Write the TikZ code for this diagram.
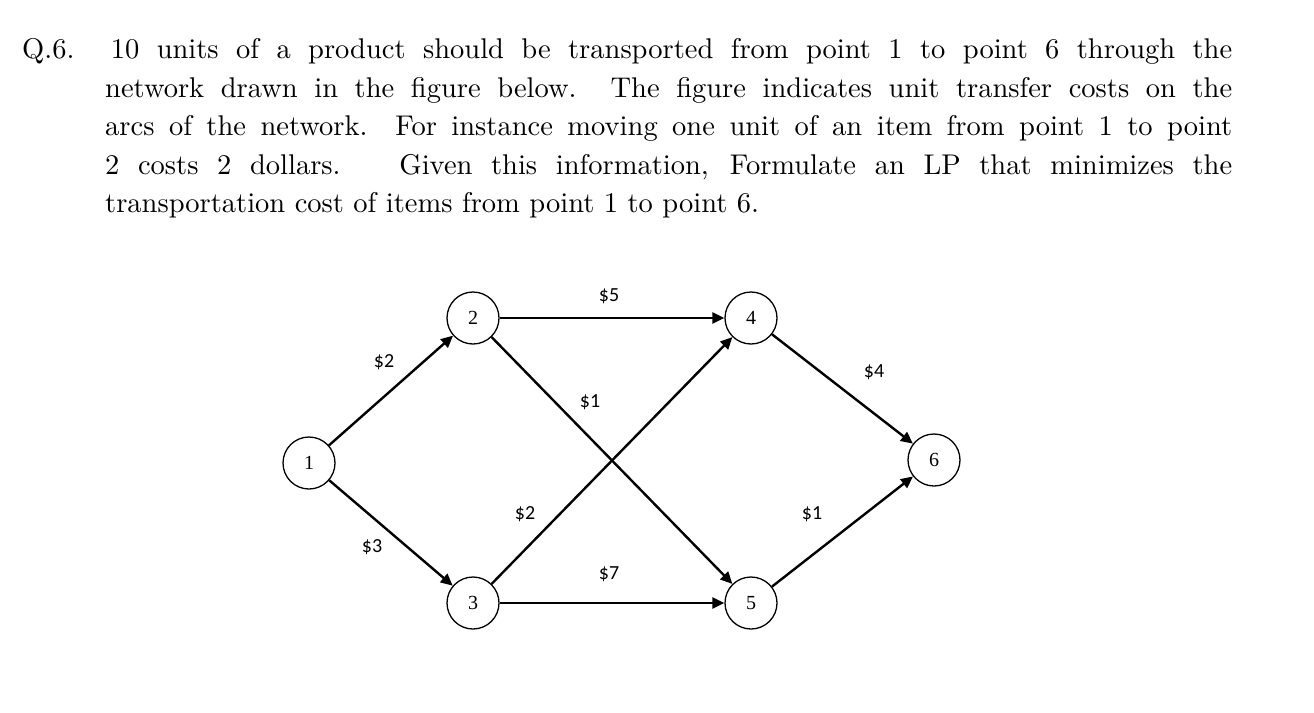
\documentclass[tikz,border=0pt]{standalone}
\usepackage{fontspec}
\newfontfamily\calfont{Carlito}
\newfontfamily\tmsfont{Liberation Serif}
\newfontfamily\tenfont{lmroman10-regular.otf}
\usetikzlibrary{arrows.meta}
\begin{document}
\begin{tikzpicture}[x=1pt,y=-1pt,
  vtx/.style={circle,draw,line width=1.3pt,minimum size=52pt,inner sep=0pt,font=\tmsfont\fontsize{20}{20}\selectfont},
  arc/.style={line width=2.4pt,-{Triangle[length=12pt,width=11pt]}},
  cost/.style={font=\calfont\fontsize{20}{20}\selectfont,inner sep=0pt},
  txt/.style={anchor=base west,inner sep=0pt,font=\tenfont\fontsize{28.5}{38}\selectfont}]
\useasboundingbox (0,0) rectangle (1314,712);
\node[txt] (l1) at (22,58) {\hbox to 1210pt{Q.6. 10 units of a product should be transported from point 1 to point 6 through the}};
\node[txt] (l2) at (105,97) {\hbox to 1127pt{network drawn in the figure below. The figure indicates unit transfer costs on the}};
\node[txt] (l3) at (105,135) {\hbox to 1127pt{arcs of the network. For instance moving one unit of an item from point 1 to point}};
\node[txt] (l4) at (105,174) {\hbox to 1127pt{2 costs 2 dollars. \ Given this information, Formulate an LP that minimizes the}};
\node[txt] (l5) at (105,212) {transportation cost of items from point 1 to point 6.};
\node[vtx] (n1) at (309,463) {1};
\node[vtx] (n2) at (473,318) {2};
\node[vtx] (n3) at (473,603) {3};
\node[vtx] (n4) at (751,318) {4};
\node[vtx] (n5) at (751,603) {5};
\node[vtx] (n6) at (934,460) {6};
\draw[arc] (n1) -- (n2);
\draw[arc] (n1) -- (n3);
\draw[arc] (n2) -- (n4);
\draw[arc] (n2) -- (n5);
\draw[arc] (n3) -- (n4);
\draw[arc] (n3) -- (n5);
\draw[arc] (n4) -- (n6);
\draw[arc] (n5) -- (n6);
\node[cost] (c12) at (384,362) {\$2};
\node[cost] (c13) at (372,547) {\$3};
\node[cost] (c24) at (609,296) {\$5};
\node[cost] (c25) at (590,402) {\$1};
\node[cost] (c34) at (525,514) {\$2};
\node[cost] (c35) at (609,574) {\$7};
\node[cost] (c46) at (874,372) {\$4};
\node[cost] (c56) at (812,514) {\$1};
\end{tikzpicture}
\end{document}
